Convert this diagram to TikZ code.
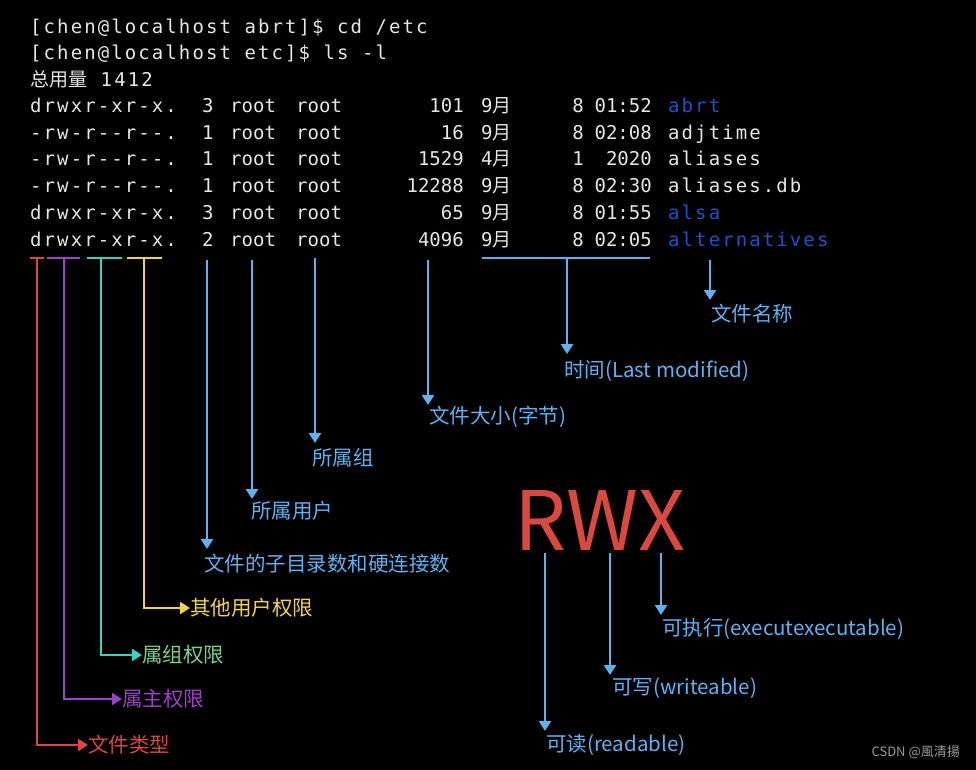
\documentclass[tikz,border=0pt]{standalone}
\usepackage{fontspec}
\setmainfont{Noto Sans CJK SC}
\newfontfamily\cjk{Noto Sans CJK SC}
\newfontfamily\mono{DejaVu Sans Mono}
\newfontfamily\monow[LetterSpace=11]{DejaVu Sans Mono}
\usetikzlibrary{arrows.meta}
\definecolor{tred}{HTML}{D9493F}
\definecolor{tpur}{HTML}{9A44C8}
\definecolor{ttea}{HTML}{40D0C0}
\definecolor{tgrn}{HTML}{7CCF90}
\definecolor{tyel}{HTML}{F2D544}
\definecolor{tblu}{HTML}{5FB2F0}
\definecolor{fblu}{HTML}{1E50C8}
\definecolor{term}{HTML}{E6E6E6}
\begin{document}
\begin{tikzpicture}[x=1pt,y=-1pt,
  tm/.style={inner sep=0,text=term,font=\mono\fontsize{19}{19}\selectfont,anchor=base west},
  tw/.style={tm,font=\monow\fontsize{19}{19}\selectfont},
  tr/.style={tm,anchor=base east},
  lb/.style={inner sep=0,anchor=west,font=\fontsize{20.5}{20.5}\selectfont},
  ln/.style={line width=2.6pt},
  ar/.style={ln,-{Triangle[length=10pt,width=12pt]}}]
\fill[black] (0,0) rectangle (976,770);
\useasboundingbox (0,0) rectangle (976,770);
% terminal
\node[tw] (l1) at (30,34) {[chen@localhost abrt]\$ cd /etc};
\node[tw] (l2) at (30,60) {[chen@localhost etc]\$ ls -l};
\node[tw] (l3) at (30,87) {{\cjk 总用量} 1412};
\foreach \y/\p/\n/\s/\m/\d/\t/\f/\c [count=\i] in {
 113/drwxr-xr-x./3/101/9/8/01:52/abrt/fblu,
 140/-rw-r--r--./1/16/9/8/02:08/adjtime/term,
 166/-rw-r--r--./1/1529/4/1/2020/aliases/term,
 193/-rw-r--r--./1/12288/9/8/02:30/aliases.db/term,
 219/drwxr-xr-x./3/65/9/8/01:55/alsa/fblu,
 246/drwxr-xr-x./2/4096/9/8/02:05/alternatives/fblu}{
 \node[tw] (p\i) at (30,\y) {\p};
 \node[tm] (n\i) at (202,\y) {\n};
 \node[tm] (u\i) at (230,\y) {root};
 \node[tm] (g\i) at (296,\y) {root};
 \node[tr] (s\i) at (464,\y) {\s};
 \node[tm] (m\i) at (481,\y) {\m{\cjk 月}};
 \node[tr] (d\i) at (584,\y) {\d};
 \node[tr] (t\i) at (652,\y) {\t};
 \node[tw,text=\c] (f\i) at (668,\y) {\f};
}
% coloured brackets
\draw[ln,tred] (30,258) -- (44,258);
\draw[ln,tpur] (47,258) -- (80,258);
\draw[ln,ttea] (87,258) -- (122,258);
\draw[ln,tyel] (127,258) -- (162,258);
\node[lb,text=tred] (ft) at (88,745) {文件类型};
\node[lb,text=tpur] (oq) at (122,699) {属主权限};
\node[lb,text=tgrn] (gq) at (142,655) {属组权限};
\node[lb,text=tyel] (xq) at (190,608) {其他用户权限};
\coordinate (a1) at (37,258); \coordinate (a2) at (64,258);
\coordinate (a3) at (101,258); \coordinate (a4) at (144,258);
\draw[ar,tred] (a1) |- (ft.west);
\draw[ar,tpur] (a2) |- (oq.west);
\draw[ar,ttea] (a3) |- (gq.west);
\draw[ar,tyel] (a4) |- (xq.west);
% blue arrows
\node[lb,text=tblu] (c1) at (204,564) {文件的子目录数和硬连接数};
\node[lb,text=tblu] (c2) at (251,511) {所属用户};
\node[lb,text=tblu] (c3) at (312,458) {所属组};
\node[lb,text=tblu] (c4) at (429,417) {文件大小(字节)};
\node[lb,text=tblu] (c5) at (564,371) {时间(Last modified)};
\node[lb,text=tblu] (c6) at (711,314) {文件名称};
\draw[ar,tblu] (207,260) -- (207,549);
\draw[ar,tblu] (252,260) -- (252,499);
\draw[ar,tblu] (315,258) -- (315,443);
\draw[ar,tblu] (428,260) -- (428,405);
\draw[ln,tblu] (482,258) -- (650,258);
\draw[ar,tblu] (567,258) -- (567,354);
\draw[ar,tblu] (710,260) -- (710,300);
% RWX
\node[inner sep=0,text=tred,font=\fontsize{82}{82}\selectfont] (rwx) at (600,520) {RWX};
\node[lb,text=tblu] (r) at (546,745) {可读(readable)};
\node[lb,text=tblu] (w) at (612,688) {可写(writeable)};
\node[lb,text=tblu] (x) at (662,629) {可执行(executexecutable)};
\draw[ar,tblu] (545,553) -- (545,731);
\draw[ar,tblu] (610,553) -- (610,675);
\draw[ar,tblu] (661,553) -- (661,615);
\node[inner sep=0,anchor=east,text=gray!80,font=\fontsize{13}{13}\selectfont] (csdn) at (960,752) {CSDN @風清揚};
\end{tikzpicture}
\end{document}
